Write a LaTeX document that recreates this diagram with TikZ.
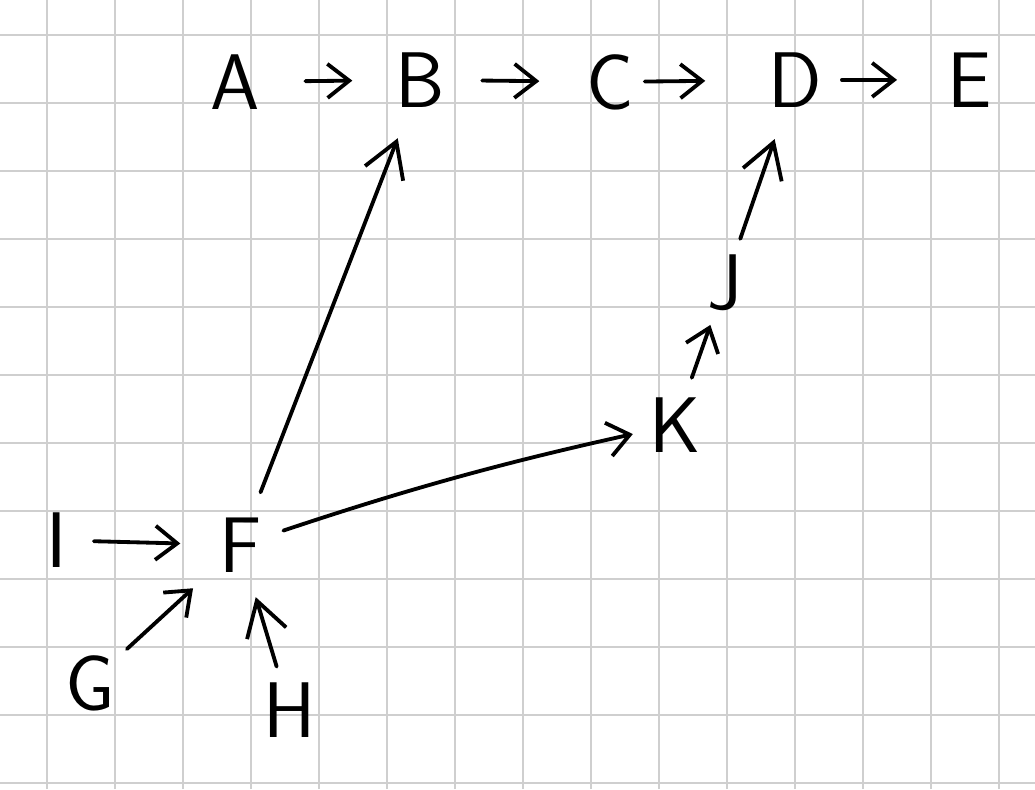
\documentclass[tikz,border=0pt]{standalone}
\usetikzlibrary{arrows.meta}

\begin{document}
\begin{tikzpicture}[
    letter/.style={inner sep=0pt, font=\sffamily\fontsize{33}{36}\selectfont},
    gridline/.style={gray!38, line width=0.8pt},
    arr/.style={line width=1.6pt, line cap=round, -{Straight Barb[length=3.2mm, width=5mm]}},
    bigarr/.style={arr, -{Straight Barb[length=5mm, width=6mm]}}
  ]
    \useasboundingbox (-0.691, -0.088) rectangle (14.529, 11.515);
    \fill[white] (-0.691, -0.088) rectangle (14.529, 11.515);
    \draw[gridline] (-0.691, -0.088) grid (14.529, 11.515);

    % top row
    \node[letter] (A) at (2.77, 10.31) {A};
    \node[letter] (B) at (5.49, 10.34) {B};
    \node[letter] (C) at (8.28, 10.31) {C};
    \node[letter] (D) at (11.0, 10.34) {D};
    \node[letter] (E) at (13.57, 10.34) {E};
    % the rest
    \node[letter] (J) at (9.97, 7.35) {J};
    \node[letter] (K) at (9.24, 5.27) {K};
    \node[letter] (F) at (2.84, 3.5) {F};
    \node[letter] (I) at (0.15, 3.57) {I};
    \node[letter] (G) at (0.63, 1.47) {G};
    \node[letter] (H) at (3.57, 1.07) {H};

    \draw[arr, shorten <=1.03cm, shorten >=1.0cm] (A.center) -- (B.center);
    \draw[arr, shorten <=0.91cm, shorten >=1.04cm] (B.center) -- (C.center);
    \draw[arr, shorten <=0.51cm, shorten >=1.32cm] (C.center) -- (D.center);
    \draw[arr, shorten <=0.69cm, shorten >=1.07cm] (D.center) -- (E.center);

    \draw[bigarr, shorten <=0.83cm, shorten >=0.92cm] (F.center) -- (B.center);
    \draw[arr, shorten <=0.67cm, shorten >=0.64cm] (F.center) to[bend left=3] (K.center);
    \draw[arr, shorten <=0.73cm, shorten >=0.65cm] (K.center) -- (J.center);
    \draw[bigarr, shorten <=0.69cm, shorten >=0.92cm] (J.center) -- (D.center);

    \draw[arr, shorten <=0.54cm, shorten >=0.88cm] (I.center) -- (F.center);
    \draw[arr, shorten <=0.74cm, shorten >=0.94cm] (G.center) -- (F.center);
    \draw[bigarr, shorten <=0.67cm, shorten >=0.8cm] (H.center) -- (F.center);
\end{tikzpicture}
\end{document}
